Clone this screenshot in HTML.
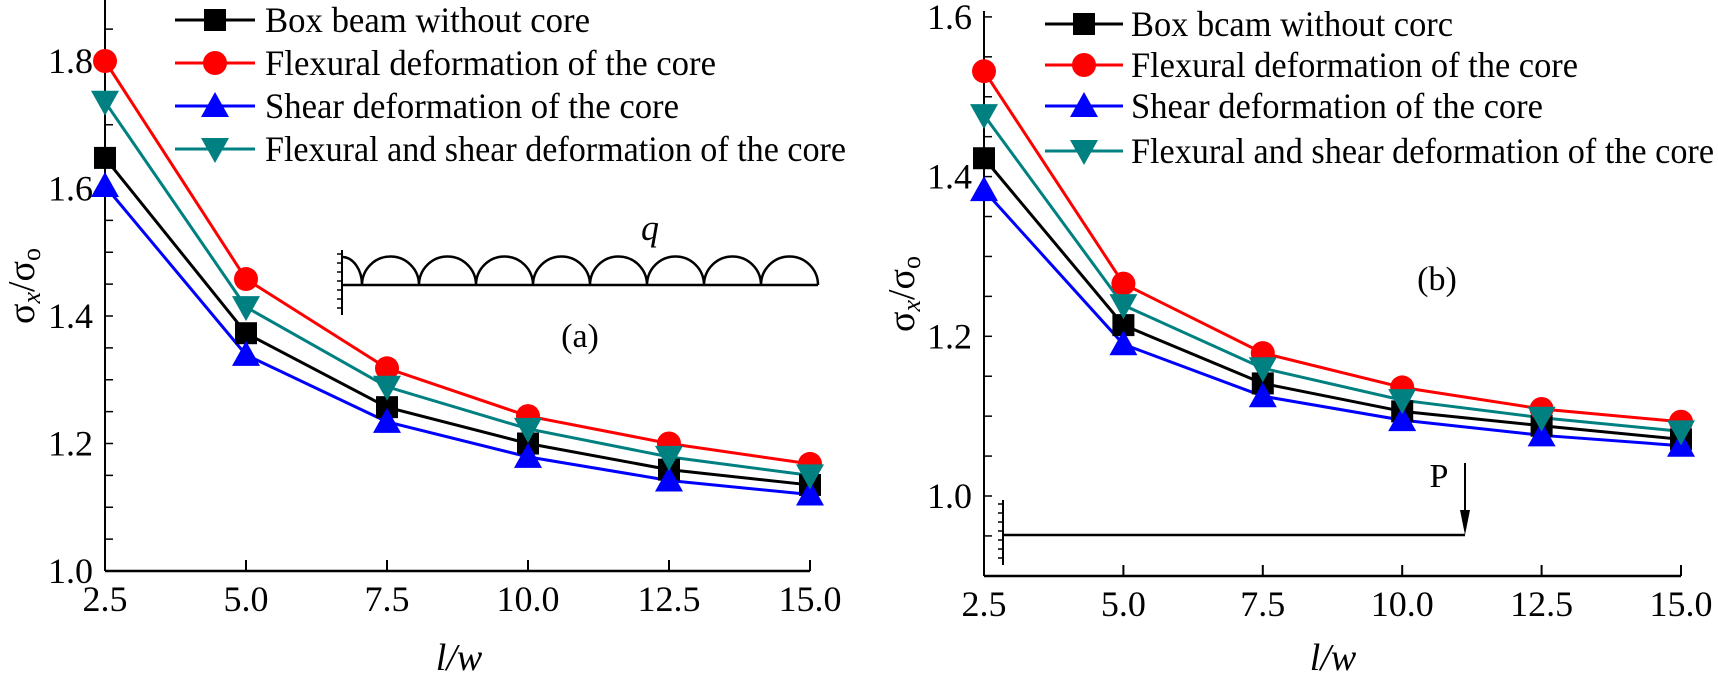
<!DOCTYPE html>
<html><head><meta charset="utf-8"><style>
html,body{margin:0;padding:0;background:#fff;}
svg{display:block;}
text,tspan{font-family:"Liberation Serif","DejaVu Serif",serif;}
</style></head><body>
<svg id="s" width="1718" height="678" viewBox="0 0 1718 678" xmlns="http://www.w3.org/2000/svg" font-family="Liberation Serif, serif"></svg>
<script>
var S=document.getElementById('s'),h='';
var F=' font-family="Liberation Serif, serif"';
var cols={k:'#000',r:'#ff0000',b:'#0000ff',t:'#008080'};
function mk(type,x,y,c){
 if(type=='k')return '<rect x="'+(x-11)+'" y="'+(y-11)+'" width="22" height="22" fill="'+c+'"/>';
 if(type=='r')return '<circle cx="'+x+'" cy="'+y+'" r="12" fill="'+c+'"/>';
 if(type=='b')return '<polygon points="'+x+','+(y-14)+' '+(x-14)+','+(y+11)+' '+(x+14)+','+(y+11)+'" fill="'+c+'"/>';
 return '<polygon points="'+x+','+(y+14)+' '+(x-14)+','+(y-11)+' '+(x+14)+','+(y-11)+'" fill="'+c+'"/>';
}
function chart(o){
 var X=function(i){return o.x0+i*o.dx;},Y=function(v){return o.y1-(v-1)*o.sy;};
 h+='<line x1="'+o.x0+'" y1="'+o.top+'" x2="'+o.x0+'" y2="'+o.bot+'" stroke="#000" stroke-width="2"/>';
 h+='<line x1="'+o.x0+'" y1="'+o.bot+'" x2="'+X(5)+'" y2="'+o.bot+'" stroke="#000" stroke-width="2.5"/>';
 for(var v=o.vmin;v<=o.vmax+1e-6;v+=0.05){var y=Y(v);h+='<line x1="'+o.x0+'" y1="'+y+'" x2="'+(o.x0+8)+'" y2="'+y+'" stroke="#000" stroke-width="1.5"/>';}
 o.lab.forEach(function(v){h+='<text'+F+' x="'+(o.x0-12)+'" y="'+(Y(v)+12)+'" font-size="36" text-anchor="end">'+v.toFixed(1)+'</text>';});
 var xl=['2.5','5.0','7.5','10.0','12.5','15.0'];
 for(var i=0;i<6;i++){h+='<line x1="'+X(i)+'" y1="'+o.bot+'" x2="'+X(i)+'" y2="'+(o.bot-11)+'" stroke="#000" stroke-width="2"/>';
  h+='<text'+F+' x="'+X(i)+'" y="'+(o.bot+40)+'" font-size="36" text-anchor="middle">'+xl[i]+'</text>';}
 ['t','b','k','r'].forEach(function(k){var d=o.d[k],p=[];for(var i=0;i<6;i++)p.push(X(i)+','+Y(d[i]));
  h+='<polyline points="'+p.join(' ')+'" fill="none" stroke="'+cols[k]+'" stroke-width="3"/>';});
 ['k','r','b','t'].forEach(function(k){var d=o.d[k];for(var i=0;i<6;i++)h+=mk(k,X(i),Y(d[i]),cols[k]);});
 var ks=['k','r','b','t'];
 for(var j=0;j<4;j++){var y=o.ly[j],k=ks[j];
  h+='<line x1="'+o.lx0+'" y1="'+y+'" x2="'+o.lx1+'" y2="'+y+'" stroke="'+cols[k]+'" stroke-width="3"/>';
  h+=mk(k,(o.lx0+o.lx1)/2,y,cols[k]);
  h+='<text'+F+' x="'+o.tx+'" y="'+(y+12)+'" font-size="36" textLength="'+o.tw[j]+'" lengthAdjust="spacingAndGlyphs">'+o.tt[j]+'</text>';}
 h+='<text'+F+' transform="translate('+(o.yt[0]+12)+','+o.yt[1]+') rotate(-90)" font-size="38" text-anchor="middle">σ<tspan font-style="italic" font-size="26" dy="6">x</tspan><tspan dy="-6">/σ</tspan><tspan font-size="26" dy="6">o</tspan></text>';
 h+='<text'+F+' x="'+o.xt+'" y="670" font-size="38" font-style="italic" text-anchor="middle">l/w</text>';
}
chart({x0:105,dx:141,y1:571,sy:637.5,top:0,bot:571,vmin:1.0,vmax:1.9,lab:[1.0,1.2,1.4,1.6,1.8],
 d:{k:[1.648,1.373,1.257,1.2,1.159,1.135],r:[1.80,1.458,1.318,1.243,1.2,1.168],b:[1.604,1.339,1.234,1.179,1.142,1.12],t:[1.736,1.414,1.289,1.223,1.179,1.15]},
 lx0:175,lx1:255,tx:265,ly:[20,63,106,149],tw:[325,451,414,581],
 tt:['Box beam without core','Flexural deformation of the core','Shear deformation of the core','Flexural and shear deformation of the core'],
 yt:[22,286],xt:459});
chart({x0:984,dx:139.4,y1:496,sy:798.5,top:11,bot:576,vmin:0.9,vmax:1.6,lab:[1.0,1.2,1.4,1.6],
 d:{k:[1.423,1.214,1.141,1.106,1.088,1.071],r:[1.532,1.266,1.179,1.136,1.109,1.093],b:[1.383,1.19,1.125,1.095,1.076,1.063],t:[1.477,1.239,1.16,1.12,1.098,1.081]},
 lx0:1045,lx1:1123,tx:1131,ly:[24,65,106,151],tw:[322,447,412,583],
 tt:['Box bcam without corc','Flexural deformation of the core','Shear deformation of the core','Flexural and shear deformation of the core'],
 yt:[902,294],xt:1333});
h+='<line x1="342" y1="250" x2="342" y2="315" stroke="#000" stroke-width="2"/>';
for(var y=254;y<315;y+=9)h+='<line x1="337" y1="'+y+'" x2="342" y2="'+y+'" stroke="#000" stroke-width="1.5"/>';
h+='<line x1="342" y1="285" x2="818" y2="285" stroke="#000" stroke-width="2.5"/>';
var a='M342,257 A20,28 0 0 1 362,285';
for(var i=0;i<8;i++){var xs=362+i*57;a+=' M'+xs+',285 A28.5,28.5 0 0 1 '+(xs+57)+',285';}
h+='<path d="'+a+'" fill="none" stroke="#000" stroke-width="2.5"/>';
h+='<text'+F+' x="650" y="240" font-size="36" font-style="italic" text-anchor="middle">q</text>';
h+='<text'+F+' x="580" y="347" font-size="34" text-anchor="middle">(a)</text>';
h+='<line x1="1003" y1="500" x2="1003" y2="565" stroke="#000" stroke-width="2"/>';
for(var y=504;y<565;y+=9)h+='<line x1="998" y1="'+y+'" x2="1003" y2="'+y+'" stroke="#000" stroke-width="1.5"/>';
h+='<line x1="1003" y1="535" x2="1465" y2="535" stroke="#000" stroke-width="2.5"/>';
h+='<line x1="1465" y1="463" x2="1465" y2="515" stroke="#000" stroke-width="2"/>';
h+='<polygon points="1460,510 1470,510 1465,535" fill="#000"/>';
h+='<text'+F+' x="1439" y="487" font-size="34" text-anchor="middle">P</text>';
h+='<text'+F+' x="1437" y="290" font-size="34" text-anchor="middle">(b)</text>';
S.innerHTML=h;
</script>
</body></html>
